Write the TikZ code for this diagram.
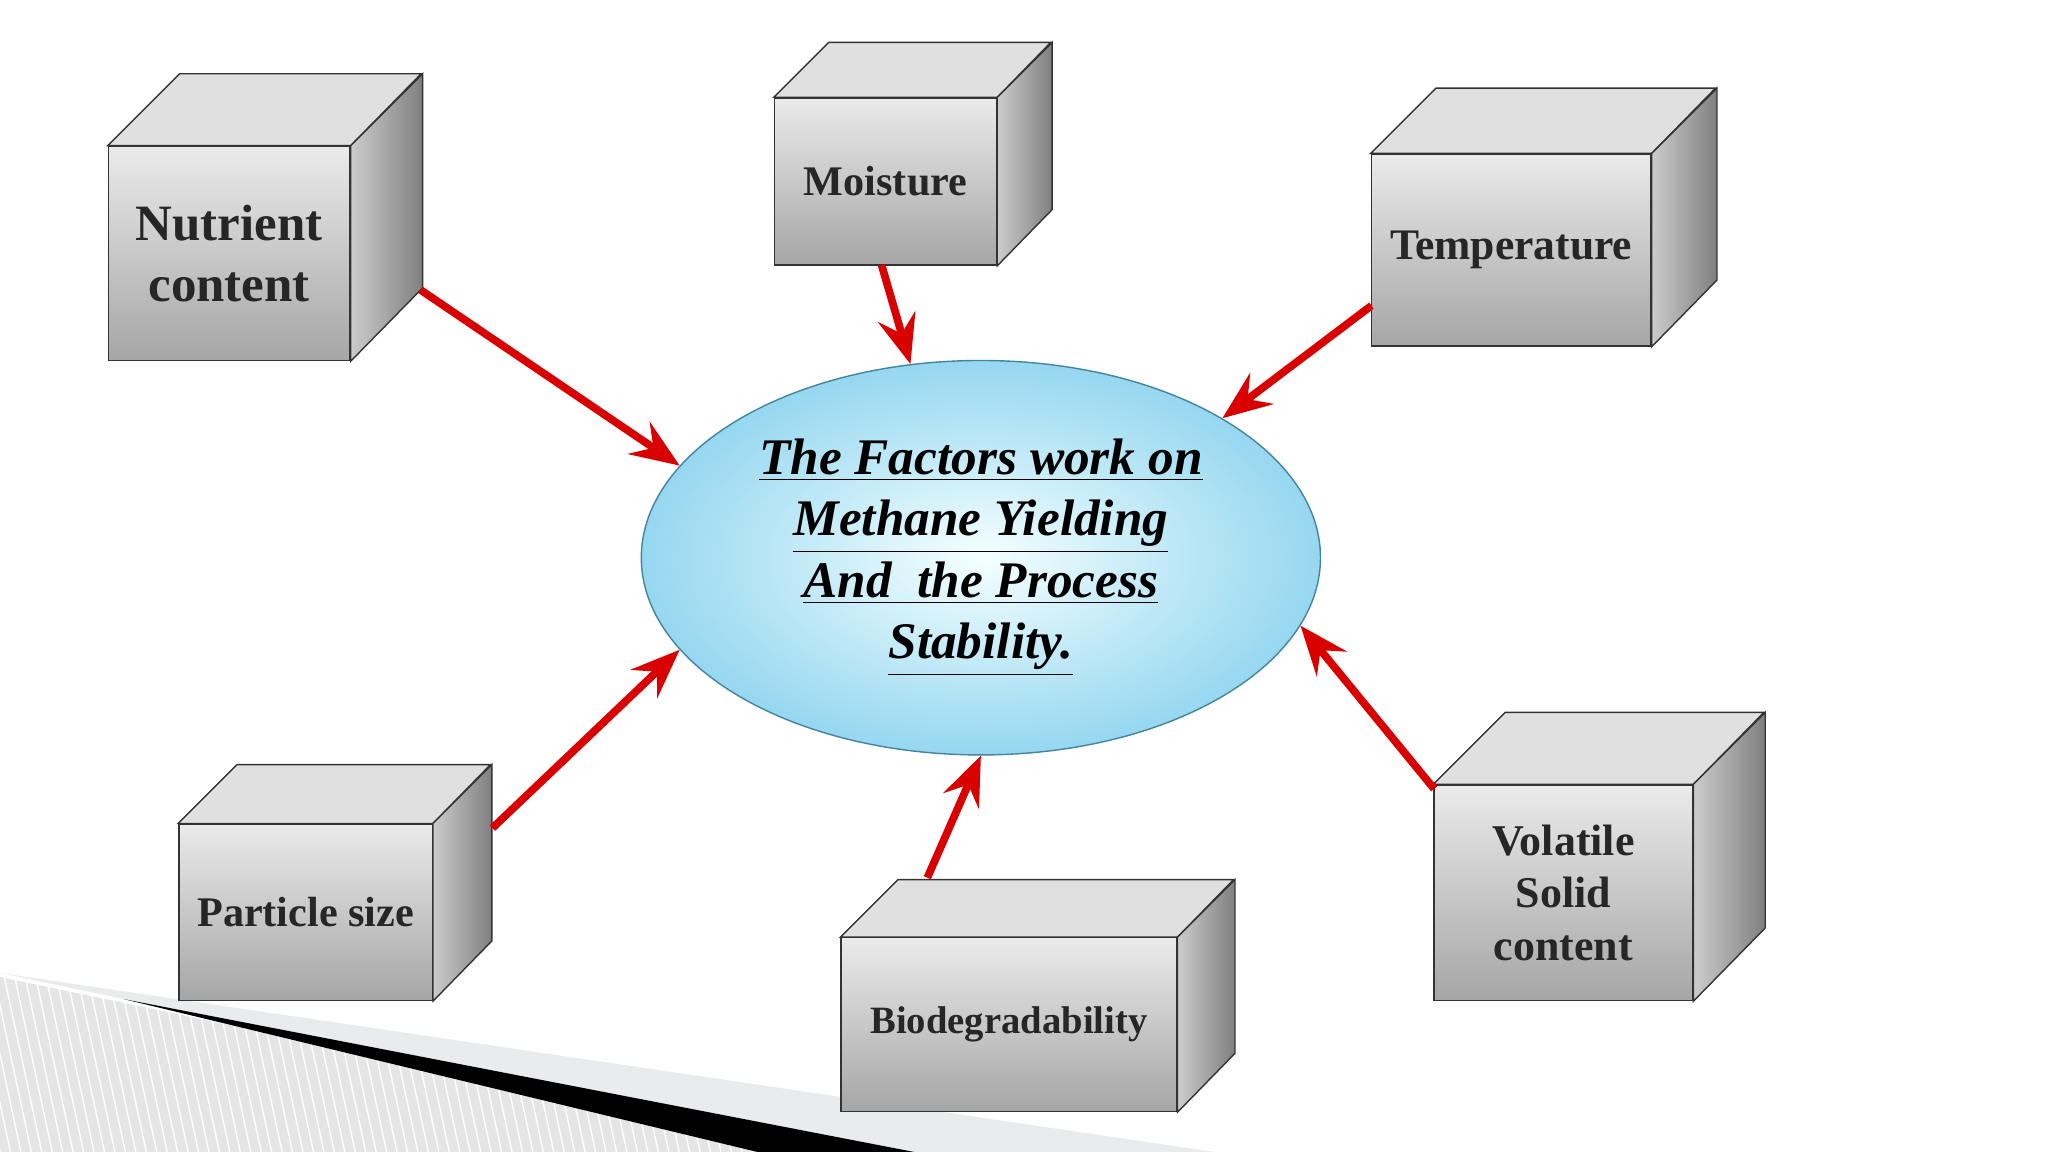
\documentclass[tikz,border=0pt]{standalone}
\usepackage{fontspec}
\setmainfont{Liberation Serif}
\usetikzlibrary{shapes.geometric,arrows.meta}
\newdimen\unitlen
\unitlen=0.01306cm
\definecolor{skyedge}{RGB}{150,215,240}
\tikzset{
    front/.style={draw=black!80, top color=black!8, bottom color=black!35,
           inner sep=0pt, font=\bfseries, align=center, text=black!85},
    topface/.style={draw=black!80, fill=black!12},
    sideface/.style={draw=black!80, left color=black!20, right color=black!50},
    hub/.style={ellipse, draw=cyan!60!black, inner color=cyan!4, outer color=skyedge,
           inner sep=0pt, minimum width=520\unitlen, minimum height=302\unitlen, align=center},
    arr/.style={draw=red!85!black, line width=2.2pt, -{Stealth[length=14pt,width=11pt,inset=5pt]}}
}
% 3D box: front face node + top + side
\newcommand{\cube}[8]{% name, x1,y1,x2,y2, depth, font, text
  \node[front, font=\bfseries#7, minimum width=(#4-#2)*\unitlen, minimum height=(#5-#3)*\unitlen]
     (#1) at ({(#2+#4)/2},{(#3+#5)/2}) {#8};
  \draw[topface] (#1.north west) -- ++(#6\unitlen,#6\unitlen) -- ++({(#4-#2)*\unitlen},0) -- (#1.north east) -- cycle;
  \draw[sideface] (#1.north east) -- ++(#6\unitlen,#6\unitlen) -- ++(0,{-(#5-#3)*\unitlen}) -- (#1.south east) -- cycle;
}
\begin{document}
\begin{tikzpicture}[x=0.01306cm,y=-0.01306cm]
\useasboundingbox (0,0) rectangle (1568,882);

% bottom left decoration
\fill[black!10] (0,748) -- (640,882) -- (0,882) -- cycle;
\foreach \i in {0,8,...,600} \draw[white, line width=0.4pt] (\i,882) -- ++(-30,-140);
\fill[cyan!15!black!10] (0,745) -- (930,882) -- (700,882) -- (95,765) -- cycle;
\fill[black] (95,765) -- (700,882) -- (580,882) -- cycle;

% the boxes
\cube{nut}{83}{112}{268}{276}{55}{\fontsize{14.5}{17.5}\selectfont}{Nutrient\\content}
\cube{moist}{593}{75}{763}{203}{42}{\fontsize{12}{14}\selectfont}{Moisture}
\cube{temp}{1050}{118}{1264}{265}{50}{\fontsize{12.4}{14}\selectfont}{Temperature}
\cube{part}{137}{631}{331}{766}{45}{\fontsize{12}{14}\selectfont}{Particle size}
\cube{bio}{644}{718}{901}{851}{44}{\fontsize{11}{13}\selectfont}{Biodegradability}
\cube{vol}{1098}{601}{1296}{766}{55}{\fontsize{12.5}{15}\selectfont}{Volatile\\Solid\\content}

% centre
\node[hub, font=\fontsize{14.6}{17.5}\selectfont\bfseries\itshape] (ell) at (751,427)
  {\underline{The Factors work on}\\\underline{Methane Yielding}\\\underline{And\ \ the Process}\\\underline{Stability.}};

% arrows
\coordinate (nutout) at (322,222);
\coordinate (moistout) at (675,203);
\coordinate (tempout) at (1050,234);
\coordinate (partout) at (377,634);
\coordinate (bioout) at (710,672);
\coordinate (volout) at (1098,604);
\draw[arr] (nutout) -- (ell.163);
\draw[arr] (moistout) -- (ell.110);
\draw[arr] (tempout) -- (ell.30);
\draw[arr] (partout) -- (ell.197);
\draw[arr] (bioout) -- (ell.270);
\draw[arr] (volout) -- (ell.348);
\end{tikzpicture}
\end{document}
